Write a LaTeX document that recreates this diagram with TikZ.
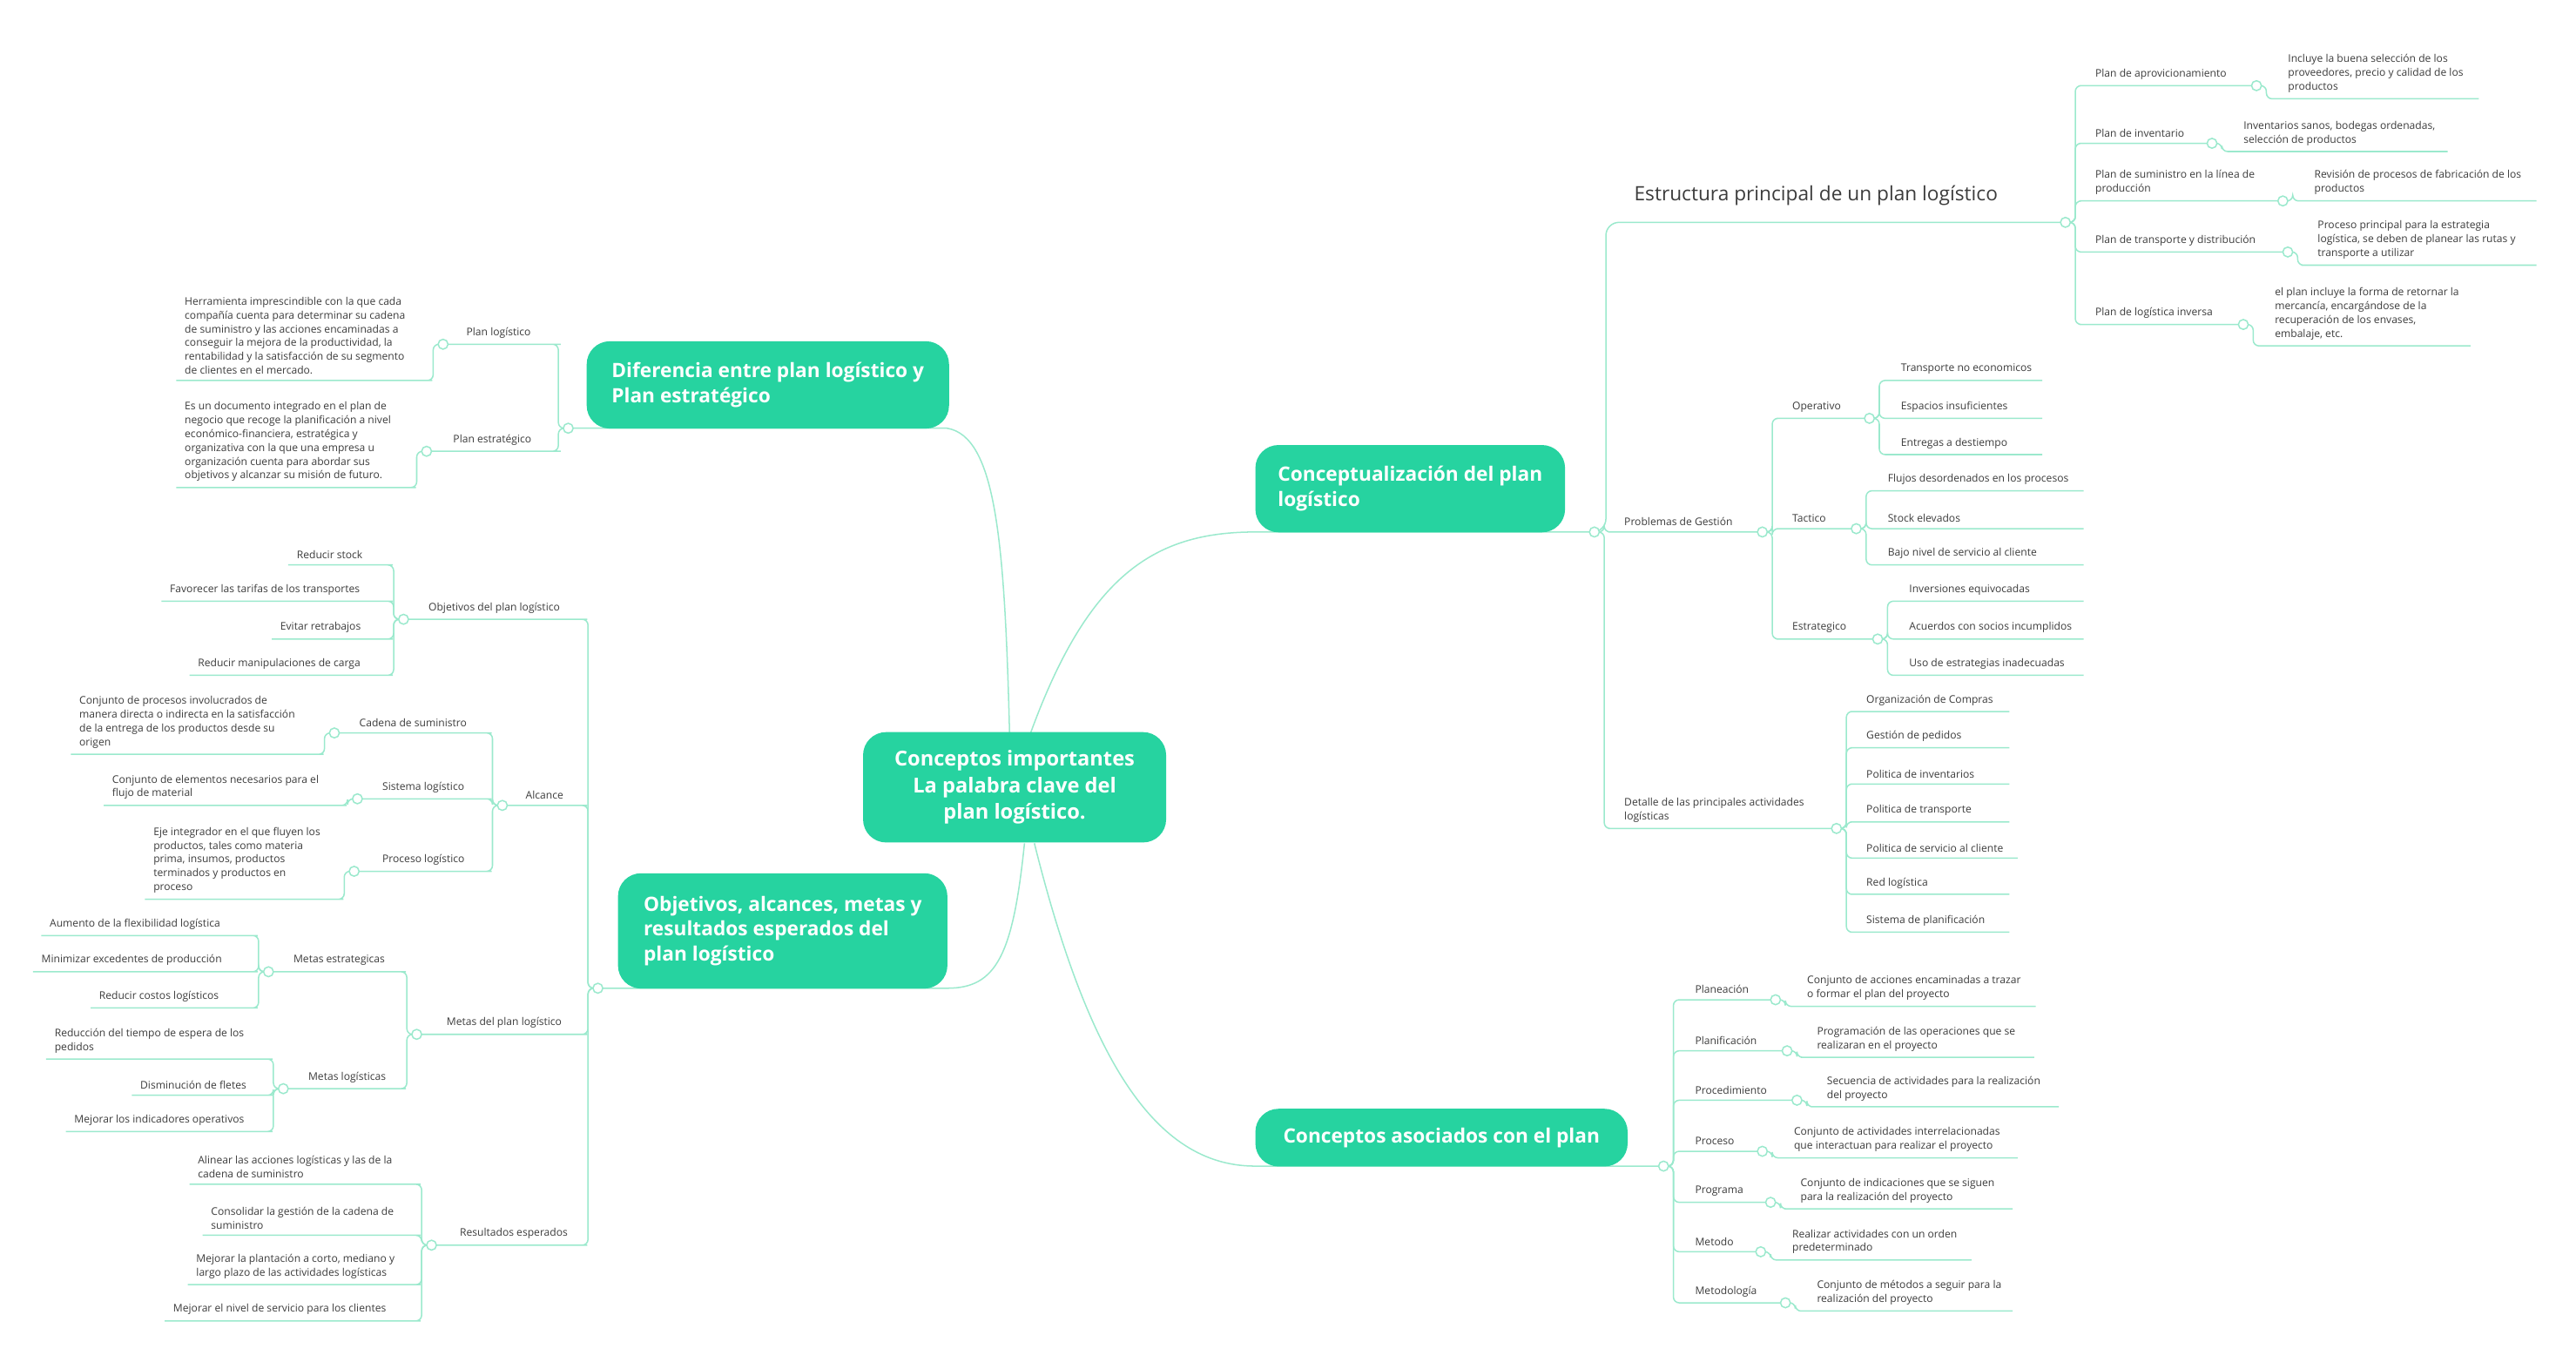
\documentclass[tikz,border=0pt]{standalone}
\usepackage{fontspec}
\setmainfont{Open Sans}
\definecolor{teal}{HTML}{26D3A0}
\definecolor{lnk}{HTML}{9BE9CD}
\definecolor{txt}{HTML}{3C3C3C}
\tikzset{
  link/.style={draw=lnk, line width=0.8pt},
  leaf/.style={text=txt, inner sep=0pt, align=left, font=\fontsize{6.4}{8.4}\selectfont},
  topic/.style={fill=teal, text=white, rounded corners=14pt, align=left, inner xsep=9pt,
    font=\bfseries\fontsize{12}{15}\selectfont},
  knot/.style={draw=lnk, fill=white, line width=0.8pt}
}
% right branch: parent, name, x left, y line, x right, text
\newcommand{\rt}[6]{%
  \coordinate (#2) at (#5,#4);
  \draw[link, rounded corners=3.5pt] (#1) -- ++(6,0) |- (#3,#4) -- (#5,#4);
  \node[leaf, anchor=south west] at (#3+6,#4-3.5) {#6};
}
% left branch: parent, name, x left, y line, x right, text
\newcommand{\lt}[6]{%
  \coordinate (#2) at (#3,#4);
  \draw[link, rounded corners=3.5pt] (#1) -- ++(-6,0) |- (#5,#4) -- (#3,#4);
  \node[leaf, anchor=south west] at (#3+5,#4-3.5) {#6};
}
\newcommand{\knot}[1]{\filldraw[knot] (#1) circle (3pt);}
\begin{document}
\begin{tikzpicture}[x=1pt, y=-1pt]
  \useasboundingbox (0,0) rectangle (1564,826.5);

  % main connectors
  \coordinate (jdif) at (345,260);
  \coordinate (jobj) at (363,600);
  \coordinate (jcon) at (968,323);
  \coordinate (jaso) at (1010,708);
  \draw[link] (613,447) .. controls (610,330) and (605,265) .. (575,260) -- (jdif);
  \draw[link] (622,512) .. controls (615,580) and (605,600) .. (575,600) -- (jobj);
  \draw[link] (625,447) .. controls (660,350) and (700,323) .. (762,323) -- (jcon);
  \draw[link] (628,512) .. controls (660,640) and (700,708) .. (762,708) -- (jaso);

  % main topics
  \node[topic, minimum width=184pt, minimum height=67pt, align=center,
        font=\bfseries\fontsize{12.5}{16}\selectfont] (root) at (616,478)
    {Conceptos importantes\\La palabra clave del\\plan logístico.};
  \node[topic, minimum width=220pt, minimum height=53pt, anchor=north west] (dif) at (356,207)
    {Diferencia entre plan logístico y\\Plan estratégico};
  \node[topic, minimum width=200pt, minimum height=70pt, anchor=north west] (obj) at (375,530)
    {Objetivos, alcances, metas y\\resultados esperados del\\plan logístico};
  \node[topic, minimum width=188pt, minimum height=53pt, anchor=north west] (con) at (762,270)
    {Conceptualización del plan\\logístico};
  \node[topic, minimum width=226pt, minimum height=35pt, anchor=north west] (aso) at (762,673)
    {Conceptos asociados con el plan};

  % Conceptualizacion
  \coordinate (jest) at (1254,135);
  \draw[link, rounded corners=8pt] (jcon) -- ++(7,0) |- (jest);
  \node[text=txt, anchor=south west, inner sep=0pt, font=\fontsize{12}{14}\selectfont] at (992,125)
    {Estructura principal de un plan logístico};
  \rt{jest}{a1}{1266}{52}{1370}{Plan de aprovicionamiento}
  \rt{a1}{x}{1383}{60}{1505}{Incluye la buena selección de los\\proveedores, precio y calidad de los\\productos}
  \rt{jest}{a2}{1266}{87}{1343}{Plan de inventario}
  \rt{a2}{x}{1356}{92}{1486}{Inventarios sanos, bodegas ordenadas,\\selección de productos}
  \rt{jest}{a3}{1266}{122}{1386}{Plan de suministro en la línea de\\producción}
  \rt{a3}{x}{1399}{122}{1540}{Revisión de procesos de fabricación de los\\productos}
  \rt{jest}{a4}{1266}{153}{1389}{Plan de transporte y distribución}
  \rt{a4}{x}{1401}{161}{1540}{Proceso principal para la estrategia\\logística, se deben de planear las rutas y\\transporte a utilizar}
  \rt{jest}{a5}{1266}{197}{1362}{Plan de logística inversa}
  \rt{a5}{x}{1375}{210}{1500}{el plan incluye la forma de retornar la\\mercancía, encargándose de la\\recuperación de los envases,\\embalaje, etc.}

  \rt{jcon}{jpro}{980}{323}{1070}{Problemas de Gestión}
  \rt{jpro}{b1}{1082}{254}{1135}{Operativo}
  \rt{b1}{x}{1148}{231}{1240}{Transporte no economicos}
  \rt{b1}{x}{1148}{254}{1240}{Espacios insuficientes}
  \rt{b1}{x}{1148}{276}{1240}{Entregas a destiempo}
  \rt{jpro}{b2}{1082}{321}{1127}{Tactico}
  \rt{b2}{x}{1140}{298}{1265}{Flujos desordenados en los procesos}
  \rt{b2}{x}{1140}{321}{1265}{Stock elevados}
  \rt{b2}{x}{1140}{343}{1265}{Bajo nivel de servicio al cliente}
  \rt{jpro}{b3}{1082}{388}{1140}{Estrategico}
  \rt{b3}{x}{1153}{365}{1265}{Inversiones equivocadas}
  \rt{b3}{x}{1153}{388}{1265}{Acuerdos con socios incumplidos}
  \rt{b3}{x}{1153}{410}{1265}{Uso de estrategias inadecuadas}

  \rt{jcon}{jdet}{980}{503}{1115}{Detalle de las principales actividades\\logísticas}
  \rt{jdet}{x}{1127}{432}{1220}{Organización de Compras}
  \rt{jdet}{x}{1127}{454}{1220}{Gestión de pedidos}
  \rt{jdet}{x}{1127}{476}{1220}{Politica de inventarios}
  \rt{jdet}{x}{1127}{499}{1220}{Politica de transporte}
  \rt{jdet}{x}{1127}{521}{1225}{Politica de servicio al cliente}
  \rt{jdet}{x}{1127}{543}{1220}{Red logística}
  \rt{jdet}{x}{1127}{566}{1220}{Sistema de planificación}

  % Conceptos asociados
  \rt{jaso}{c1}{1023}{607}{1078}{Planeación}
  \rt{c1}{x}{1091}{611}{1236}{Conjunto de acciones encaminadas a trazar\\o formar el plan del proyecto}
  \rt{jaso}{c2}{1023}{638}{1085}{Planificación}
  \rt{c2}{x}{1097}{642}{1235}{Programación de las operaciones que se\\realizaran en el proyecto}
  \rt{jaso}{c3}{1023}{668}{1091}{Procedimiento}
  \rt{c3}{x}{1103}{672}{1250}{Secuencia de actividades para la realización\\del proyecto}
  \rt{jaso}{c4}{1023}{699}{1070}{Proceso}
  \rt{c4}{x}{1083}{703}{1225}{Conjunto de actividades interrelacionadas\\que interactuan para realizar el proyecto}
  \rt{jaso}{c5}{1023}{730}{1075}{Programa}
  \rt{c5}{x}{1087}{734}{1222}{Conjunto de indicaciones que se siguen\\para la realización del proyecto}
  \rt{jaso}{c6}{1023}{760}{1069}{Metodo}
  \rt{c6}{x}{1082}{765}{1197}{Realizar actividades con un orden\\predeterminado}
  \rt{jaso}{c7}{1023}{791}{1084}{Metodología}
  \rt{c7}{x}{1097}{796}{1222}{Conjunto de métodos a seguir para la\\realización del proyecto}

  % Diferencia
  \lt{jdif}{d1}{269}{209}{337}{\hspace*{9pt}Plan logístico}
  \lt{d1}{x}{107}{231}{259}{Herramienta imprescindible con la que cada\\compañía cuenta para determinar su cadena\\de suministro y las acciones encaminadas a\\conseguir la mejora de la productividad, la\\rentabilidad y la satisfacción de su segmento\\de clientes en el mercado.}
  \lt{jdif}{d2}{259}{274}{337}{\hspace*{11pt}Plan estratégico}
  \lt{d2}{x}{107}{296}{249}{Es un documento integrado en el plan de\\negocio que recoge la planificación a nivel\\económico-financiera, estratégica y\\organizativa con la que una empresa u\\organización cuenta para abordar sus\\objetivos y alcanzar su misión de futuro.}

  % Objetivos
  \lt{jobj}{e1}{245}{376}{353}{\hspace*{10pt}Objetivos del plan logístico}
  \lt{e1}{x}{175}{343}{235}{Reducir stock}
  \lt{e1}{x}{98}{365}{235}{Favorecer las tarifas de los transportes}
  \lt{e1}{x}{165}{388}{235}{Evitar retrabajos}
  \lt{e1}{x}{115}{410}{235}{Reducir manipulaciones de carga}
  \lt{jobj}{e2}{305}{489}{353}{\hspace*{9pt}Alcance}
  \lt{e2}{f1}{203}{445}{295}{\hspace*{10pt}Cadena de suministro}
  \lt{f1}{x}{43}{458}{193}{Conjunto de procesos involucrados de\\manera directa o indirecta en la satisfacción\\de la entrega de los productos desde su\\origen}
  \lt{e2}{f2}{217}{485}{295}{\hspace*{10pt}Sistema logístico}
  \lt{f2}{x}{63}{489}{207}{Conjunto de elementos necesarios para el\\flujo de material}
  \lt{e2}{f3}{215}{529}{295}{\hspace*{12pt}Proceso logístico}
  \lt{f3}{x}{88}{546}{205}{Eje integrador en el que fluyen los\\productos, tales como materia\\prima, insumos, productos\\terminados y productos en\\proceso}
  \lt{jobj}{e3}{253}{628}{353}{\hspace*{13pt}Metas del plan logístico}
  \lt{e3}{g1}{163}{590}{243}{\hspace*{10pt}Metas estrategicas}
  \lt{g1}{x}{25}{568}{153}{Aumento de la flexibilidad logística}
  \lt{g1}{x}{20}{590}{153}{Minimizar excedentes de producción}
  \lt{g1}{x}{55}{612}{153}{Reducir costos logísticos}
  \lt{e3}{g2}{172}{661}{243}{\hspace*{10pt}Metas logísticas}
  \lt{g2}{x}{28}{643}{162}{Reducción del tiempo de espera de los\\pedidos}
  \lt{g2}{x}{80}{665}{162}{Disminución de fletes}
  \lt{g2}{x}{40}{687}{162}{Mejorar los indicadores operativos}
  \lt{jobj}{e4}{262}{756}{353}{\hspace*{12pt}Resultados esperados}
  \lt{e4}{x}{115}{719}{252}{Alinear las acciones logísticas y las de la\\cadena de suministro}
  \lt{e4}{x}{123}{750}{252}{Consolidar la gestión de la cadena de\\suministro}
  \lt{e4}{x}{114}{780}{252}{Mejorar la plantación a corto, mediano y\\largo plazo de las actividades logísticas}
  \lt{e4}{x}{100}{802}{252}{Mejorar el nivel de servicio para los clientes}

  % junction knots
  \foreach \k in {jdif,jobj,jcon,jaso,jest,jpro,jdet,a1,a2,a3,a4,a5,b1,b2,b3,
                  c1,c2,c3,c4,c5,c6,c7,d1,d2,e1,e2,e3,e4,f1,f2,f3,g1,g2}
    {\knot{\k}}
\end{tikzpicture}
\end{document}
